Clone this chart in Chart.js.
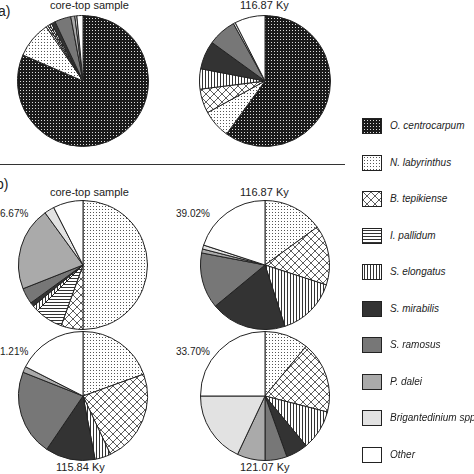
<!DOCTYPE html>
<html><head><meta charset="utf-8">
<script src="https://cdn.jsdelivr.net/npm/chart.js@4"></script>
<style>
body{margin:0;background:#fff;width:474px;height:474px;overflow:hidden;position:relative;font-family:"Liberation Sans",Arial,sans-serif;color:#222}
.t{position:absolute;font-size:11px;white-space:nowrap}
canvas.p{position:absolute}
.lg{position:absolute;left:362px;font-size:10px;font-style:italic;white-space:nowrap}
.lg canvas{position:absolute;left:0;top:0;border:1px solid #222}
.lg span{position:absolute;left:28px;top:2px}
</style></head><body>
<div class="t" style="left:-2px;top:3px;font-size:14px">a)</div>
<div class="t" style="left:-4px;top:176px;font-size:14px">b)</div>
<div style="position:absolute;left:0;top:164px;width:345px;height:1px;background:#333"></div>
<div class="t" style="left:50px;top:-1px">core-top sample</div>
<div class="t" style="left:240px;top:-1px">116.87 Ky</div>
<div class="t" style="left:50px;top:186px">core-top sample</div>
<div class="t" style="left:240px;top:186px">116.87 Ky</div>
<div class="t" style="left:0px;top:208px;font-size:10px">6.67%</div>
<div class="t" style="left:176px;top:208px;font-size:10px">39.02%</div>
<div class="t" style="left:0px;top:346px;font-size:10px">1.21%</div>
<div class="t" style="left:176px;top:346px;font-size:10px">33.70%</div>
<div class="t" style="left:56px;top:461px">115.84 Ky</div>
<div class="t" style="left:240px;top:461px">121.07 Ky</div>
<script>
const species=["O. centrocarpum","N. labyrinthus","B. tepikiense","I. pallidum","S. elongatus","S. mirabilis","S. ramosus","P. dalei","Brigantedinium spp.","Other"];
const aCore=[81.5,9,0.5,0.5,0.5,1,4,1,0.5,1.5];
const a11687=[60,7,6,0,5,7,7,0,0.5,7.5];
const bCore=[0,50,5.5,7,1.5,1,4,21,2.5,7.5];
const b11687=[0,15,15,0,15,19,14,1,1,20];
const b11584=[0,19.5,23.5,0,4,12.5,21.5,1.5,0,17.5];
const b12107=[0,11,18,0,10,5.5,5.5,7,18,25];

function pat(kind){
  const c=document.createElement('canvas');const x=c.getContext('2d');
  let s=3; if(kind==='cross') s=8;
  c.width=s;c.height=s;
  if(kind==='ocent'){x.fillStyle='#1a1a1a';x.fillRect(0,0,s,s);x.fillStyle='#ddd';x.fillRect(1,1,1,1);}
  else if(kind==='dots'){x.fillStyle='#fff';x.fillRect(0,0,s,s);x.fillStyle='#555';x.fillRect(1,1,1,1);}
  else if(kind==='hl'){x.fillStyle='#fff';x.fillRect(0,0,s,s);x.fillStyle='#333';x.fillRect(0,1,s,1);}
  else if(kind==='vl'){x.fillStyle='#fff';x.fillRect(0,0,s,s);x.fillStyle='#333';x.fillRect(1,0,1,s);}
  else if(kind==='cross'){x.fillStyle='#fff';x.fillRect(0,0,s,s);x.strokeStyle='#333';x.lineWidth=0.8;
    x.beginPath();x.moveTo(0,0);x.lineTo(s,s);x.moveTo(s,0);x.lineTo(0,s);x.stroke();}
  return x.createPattern(c,'repeat');
}
const fills=[pat('ocent'),pat('dots'),pat('cross'),pat('hl'),pat('vl'),'#333','#777','#aaa','#e2e2e2','#fff'];

function pie(data,cx,cy,r){
  const c=document.createElement('canvas');c.className='p';
  const sz=2*r+4;c.width=sz;c.height=sz;
  c.style.left=(cx-sz/2)+'px';c.style.top=(cy-sz/2)+'px';
  c.style.width=sz+'px';c.style.height=sz+'px';
  document.body.appendChild(c);
  new Chart(c,{type:'pie',data:{labels:species,datasets:[{data:data,backgroundColor:fills,borderColor:'#222',borderWidth:1}]},
    options:{responsive:false,animation:false,devicePixelRatio:1,layout:{padding:1},
      plugins:{legend:{display:false},tooltip:{enabled:false}}}});
}
pie(aCore,83,81,65);
pie(a11687,265,81,65);
pie(bCore,83,265,64);
pie(b11687,265,265,64);
pie(b12107,265,396,64);
pie(b11584,83,396,64);

species.forEach((s,i)=>{
  const d=document.createElement('div');d.className='lg';d.style.top=(118+i*36.5)+'px';
  const c=document.createElement('canvas');c.width=18;c.height=14;
  const x=c.getContext('2d');x.fillStyle=fills[i];x.fillRect(0,0,18,14);
  d.appendChild(c);const sp=document.createElement('span');sp.textContent=s;d.appendChild(sp);
  document.body.appendChild(d);
});
</script>
</body></html>
